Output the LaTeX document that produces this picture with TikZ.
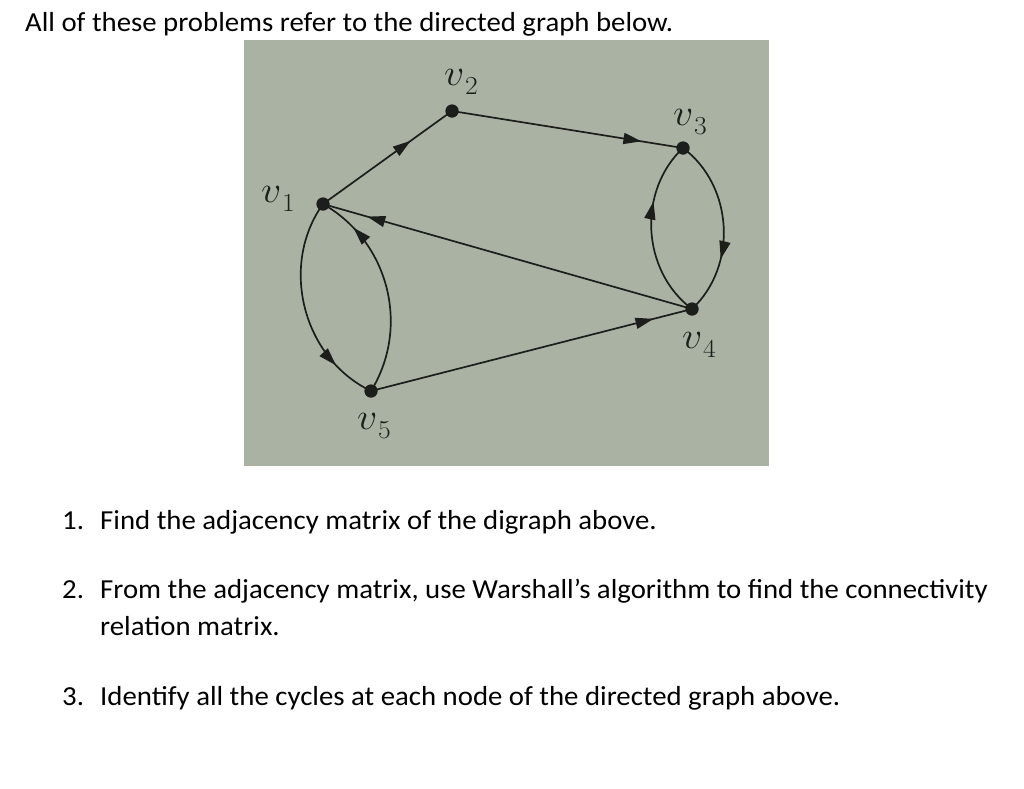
\documentclass[tikz,border=0pt]{standalone}
\usepackage{fontspec}
\setmainfont{Carlito}
\usetikzlibrary{arrows.meta,decorations.markings}
\definecolor{photo}{RGB}{170,178,164}
\definecolor{ink}{RGB}{28,30,28}
\newcommand\vlabel[1]{\scalebox{1.6}[1.5]{\fontsize{24.88}{28}\selectfont$v$\kern0.5pt\raisebox{-6pt}{\fontsize{17.28}{20}\selectfont$#1$}}}
\tikzset{
  vdot/.style={circle,fill=ink,inner sep=0pt,minimum size=13pt},
  vlab/.style={inner sep=0pt,text=ink},
  qtext/.style={anchor=base west,inner sep=0pt,font=\fontsize{27.5}{32}\selectfont,xscale=1.047},
  edge/.style={draw=ink,line width=1.7pt},
  midarrow/.style={postaction={decorate},decoration={markings,
     mark=at position #1 with {\arrow{Triangle[length=18pt,width=11pt]}}}}
}
\begin{document}
\begin{tikzpicture}[x=1pt,y=1pt]
\useasboundingbox (0,0) rectangle (1024,-788);
\fill[white] (0,0) rectangle (1024,-788);
\node[qtext] (title) at (25,-31) {All of these problems refer to the directed graph below.};
\fill[photo] (244,-40) rectangle (769,-466);
% vertices
\node[vdot] (v1) at (323,-204) {};
\node[vdot] (v2) at (452,-111) {};
\node[vdot] (v3) at (683,-148) {};
\node[vdot] (v4) at (692,-309) {};
\node[vdot] (v5) at (371,-391) {};
% labels
\node[vlab] (l1) at (278,-199) {\vlabel{1}};
\node[vlab] (l2) at (461,-82) {\vlabel{2}};
\node[vlab] (l3) at (690,-122) {\vlabel{3}};
\node[vlab] (l4) at (699,-345) {\vlabel{4}};
\node[vlab] (l5) at (374,-426) {\vlabel{5}};
% edges
\draw[edge,midarrow=0.68,fill=ink] (v1.center) -- (v2.center);
\draw[edge,midarrow=0.82,fill=ink] (v2.center) -- (v3.center);
\draw[edge,midarrow=0.88,fill=ink] (v4.center) -- (v1.center);
\draw[edge,midarrow=0.88,fill=ink] (v5.center) -- (v4.center);
\path[edge,midarrow=0.68] (v3.center) to[bend left=50] (v4.center);
\path[edge,midarrow=0.66] (v4.center) to[bend left=50] (v3.center);
\path[edge,midarrow=0.80] (v1.center) to[bend right=50] (v5.center);
\path[edge,midarrow=0.82] (v5.center) to[bend right=46] (v1.center);
\node[vdot] at (v1) {};
\node[vdot] at (v2) {};
\node[vdot] at (v3) {};
\node[vdot] at (v4) {};
\node[vdot] at (v5) {};
% questions
\node[qtext] (n1) at (62,-529) {1.};
\node[qtext] (q1) at (100,-529) {Find the adjacency matrix of the digraph above.};
\node[qtext] (n2) at (62,-598) {2.};
\node[qtext] (q2) at (100,-598) {From the adjacency matrix, use Warshall’s algorithm to find the connectivity};
\node[qtext] (q2b) at (100,-635) {relation matrix.};
\node[qtext] (n3) at (62,-705) {3.};
\node[qtext] (q3) at (100,-705) {Identify all the cycles at each node of the directed graph above.};
\end{tikzpicture}
\end{document}
